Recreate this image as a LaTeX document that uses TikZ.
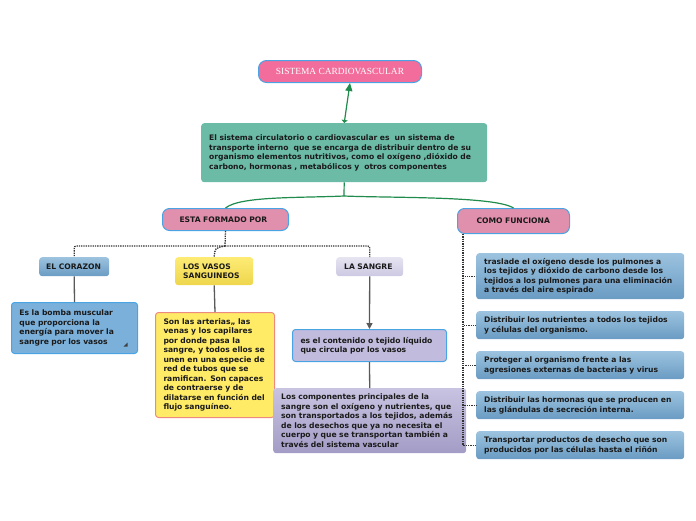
\documentclass[tikz,border=0pt]{standalone}
\usepackage{fontspec}
\setmainfont{DejaVu Sans}
\newfontfamily\titlefont{Liberation Serif}
\usetikzlibrary{arrows.meta}

\definecolor{titulo}{HTML}{F26D9B}
\definecolor{borde}{HTML}{4AA3E2}
\definecolor{centro}{HTML}{6BBBA7}
\definecolor{rosa}{HTML}{E08FAC}
\definecolor{verde}{HTML}{1F8B4C}
\definecolor{txt}{HTML}{1A1A1A}
\definecolor{azulA}{HTML}{9CC3DF}
\definecolor{azulB}{HTML}{6A9BC3}
\definecolor{amarA}{HTML}{FDEB74}
\definecolor{amarB}{HTML}{EED64C}
\definecolor{lilaA}{HTML}{E6E4F1}
\definecolor{lilaB}{HTML}{CCC8E2}
\definecolor{lilaC}{HTML}{C8C3E1}
\definecolor{lilaD}{HTML}{A39CC6}
\definecolor{azulcaja}{HTML}{7BB0DB}
\definecolor{amarcaja}{HTML}{FFEB66}
\definecolor{rojoborde}{HTML}{EC8A80}
\definecolor{lilacaja}{HTML}{C1BCDD}

\begin{document}
\begin{tikzpicture}[x=1pt, y=-1pt,
    box/.style={anchor=north west, rounded corners=3pt, align=left, inner xsep=8pt, inner ysep=0pt,
        text=txt, font=\fontsize{7.6}{9.5}\selectfont\bfseries},
    etiqueta/.style={box, font=\fontsize{7.6}{9.5}\selectfont\bfseries},
    grad/.style 2 args={top color=#1, bottom color=#2},
    verdelinea/.style={draw=verde, line width=1.2pt},
    punteado/.style={draw=black!80, densely dotted, line width=1.3pt},
    solido/.style={draw=black!65, line width=1.3pt}]
    \useasboundingbox (0,0) rectangle (696,520);

    % Title and definition
    \node [anchor=north west, rounded corners=8pt, fill=titulo, draw=borde, line width=1pt,
        minimum width=163pt, minimum height=22pt, text=white,
        font=\titlefont\fontsize{9.4}{11}\selectfont] (titulo) at (258,60) {SISTEMA CARDIOVASCULAR};
    \node [box, fill=centro, text width=270pt, minimum height=59pt] (centro) at (201,123)
        {El sistema circulatorio o cardiovascular es\ \ un sistema de\\
         transporte interno\ \ que se encarga de distribuir dentro de su\\
         organismo elementos nutritivos, como el oxígeno ,dióxido de\\
         carbono, hormonas , metabólicos y\ \ otros componentes};
    \draw [verdelinea, {Triangle[length=3pt,width=6pt]}-{Triangle[length=8pt,width=7pt]}]
        (centro.north) -- ([xshift=10pt]titulo.south);

    % Two branches
    \node [etiqueta, fill=rosa, draw=borde, line width=1pt, rounded corners=7pt, inner xsep=17pt,
        text width=92pt, minimum height=22pt] (esta) at (162,208) {ESTA FORMADO POR};
    \node [etiqueta, fill=rosa, draw=borde, line width=1pt, rounded corners=7pt, inner xsep=19pt,
        text width=74pt, minimum height=25pt] (como) at (457,208) {COMO FUNCIONA};
    \coordinate (rama) at (344,196);
    \draw [verdelinea] (centro.south) -- (rama);
    \draw [verdelinea] (rama) .. controls (300,198) and (240,196) .. (esta.north);
    \draw [verdelinea] (rama) .. controls (390,198) and (495,196) .. (como.north);

        % What it is made of
        \node [etiqueta, grad={azulA}{azulB}, inner xsep=7pt, text width=56pt, minimum height=19pt] (corazon) at (39,257) {EL CORAZON};
        \node [etiqueta, grad={amarA}{amarB}, text width=62pt, minimum height=28pt] (vasos) at (175,257)
            {LOS VASOS\\ SANGUINEOS};
        \node [etiqueta, grad={lilaA}{lilaB}, text width=51pt, minimum height=19pt] (sangre) at (336,257) {LA SANGRE};
        \coordinate (ej) at (225,246);
        \draw [punteado] (esta.south) -- (ej);
        \draw [punteado, rounded corners=2pt] (ej) -| (corazon.north);
        \draw [punteado, rounded corners=2pt] (ej) -| (sangre.north);
        \draw [punteado] (ej) .. controls (215,248) .. (vasos.north);

            \node [box, fill=azulcaja, draw=borde, line width=1pt, text width=110pt, minimum height=51pt]
                (corazontxt) at (11,302)
                {Es la bomba muscular\\ que proporciona la\\ energía para mover la\\ sangre por los vasos};
            \fill [black!75] (127.5,342.5) -- (127.5,346.5) -- (123.5,346.5) -- cycle;
            \node [box, fill=amarcaja, draw=rojoborde, line width=1pt, text width=103pt, minimum height=105pt]
                (vasostxt) at (155,312)
                {Son las arterias,, las\\ venas y los capilares\\ por donde pasa la\\ sangre, y todos ellos se\\
                 unen en una especie de\\ red de tubos que se\\ ramifican. Son capaces\\ de contraerse y de\\
                 dilatarse en función del\\ flujo sanguíneo.};
            \node [box, fill=lilacaja, draw=borde, line width=1pt, text width=138pt, minimum height=32pt]
                (sangretxt) at (292,329)
                {es el contenido o tejido líquido\\ que circula por los vasos};
            \node [box, grad={lilaC}{lilaD}, text width=177pt, minimum height=65pt] (sangrecomp) at (273,388)
                {Los componentes principales de la\\ sangre son el oxígeno y nutrientes, que\\
                 son transportados a los tejidos, además\\ de los desechos que ya no necesita el\\
                 cuerpo y que se transportan también a\\ través del sistema vascular};
            \draw [solido] (corazon.south) -- (corazontxt.north);
            \draw [solido] (vasos.south) -- (vasostxt.north);
            \draw [solido, -{Triangle[length=6pt,width=6pt]}] (sangre.south) -- (sangretxt.north);
            \draw [solido] (sangretxt.south) -- (sangrecomp.north);

        % How it works
        \foreach \n/\y/\h/\t in {1/253/46/{traslade el oxígeno desde los pulmones a\\ los tejidos y dióxido de carbono desde los\\ tejidos a los pulmones para una eliminación\\ a través del aire espirado},
                                2/311/28/{Distribuir los nutrientes a todos los tejidos\\ y células del organismo.},
                                3/351/28/{Proteger al organismo frente a las\\ agresiones externas de bacterias y virus},
                                4/391/28/{Distribuir las hormonas que se producen en\\ las glándulas de secreción interna.},
                                5/431/28/{Transportar productos de desecho que son\\ producidos por las células hasta el riñón}}
        {
            \node [box, grad={azulA}{azulB}, text width=192pt, minimum height=\h pt] (f\n) at (476,\y) {\t};
            \draw [punteado] ([xshift=6pt]como.south west) |- (f\n.west);
        }
\end{tikzpicture}
\end{document}
